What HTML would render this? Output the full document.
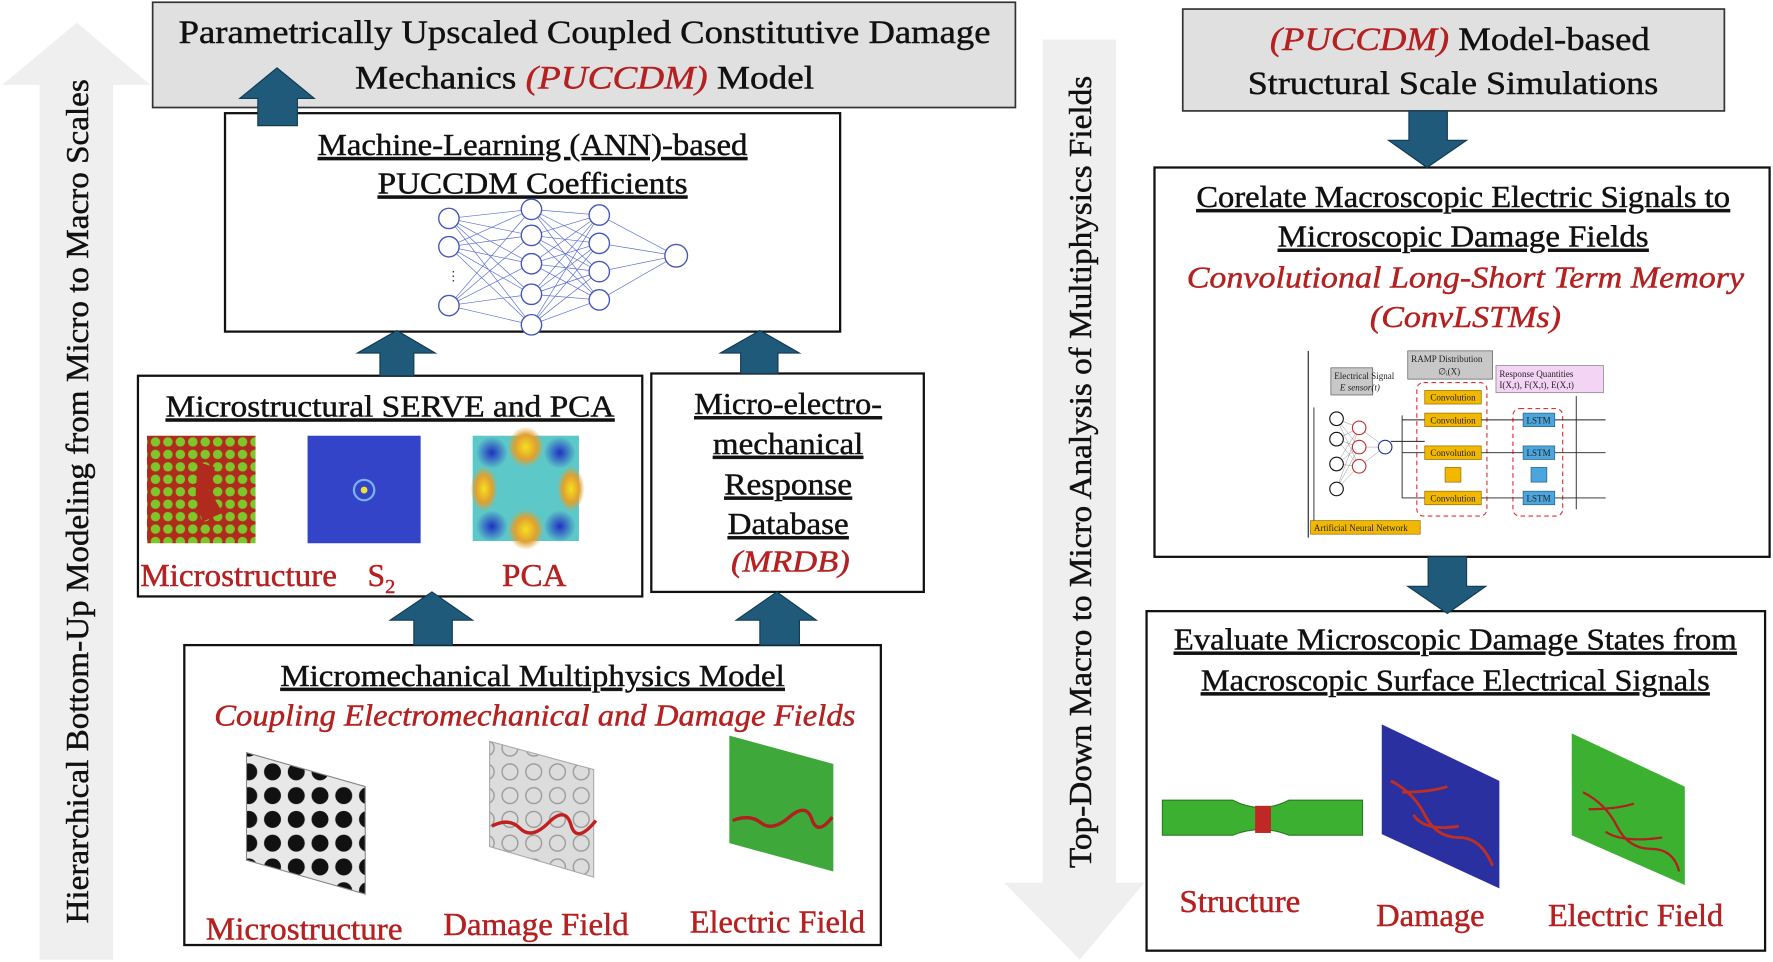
<!DOCTYPE html>
<html><head><meta charset="utf-8"><style>
html,body{margin:0;padding:0;background:#fff;overflow:hidden}
svg{display:block}
text{font-family:"Liberation Serif",serif}
.t{font-size:29px;fill:#111;stroke:#111;stroke-width:0.4}
.u{text-decoration:underline}
.r{fill:#b52020;stroke:#b52020}
.i{font-style:italic}
.s{font-size:8px;fill:#222}
</style></head><body>
<svg width="1773" height="962" viewBox="0 0 1568 850" preserveAspectRatio="none" xmlns="http://www.w3.org/2000/svg">
<defs>
<pattern id="dots" width="11" height="11" patternUnits="userSpaceOnUse"><rect width="11" height="11" fill="#b02a1e"/><circle cx="5.5" cy="5.5" r="4.2" fill="#7dc72a"/></pattern>
<pattern id="bdots" width="21" height="21" patternUnits="userSpaceOnUse"><rect width="21" height="21" fill="#e8e8e8"/><circle cx="10" cy="10" r="7.5" fill="#111"/></pattern>
<pattern id="gdots" width="21" height="21" patternUnits="userSpaceOnUse"><rect width="21" height="21" fill="#dcdcdc"/><circle cx="10" cy="10" r="7" fill="none" stroke="#999" stroke-width="1.2"/></pattern>
<radialGradient id="yb" cx="50%" cy="50%" r="50%"><stop offset="0" stop-color="#f5e020"/><stop offset="0.6" stop-color="#e0a030"/><stop offset="1" stop-color="#e0a030" stop-opacity="0"/></radialGradient>
<radialGradient id="bb" cx="50%" cy="50%" r="50%"><stop offset="0" stop-color="#2030c0"/><stop offset="1" stop-color="#2030c0" stop-opacity="0"/></radialGradient>
</defs>

<polygon points="35,848 35,75 2,75 68,20 133,75 100,75 100,848" fill="#efefef"/>
<text class="t" transform="translate(78,443) rotate(-90)" text-anchor="middle" textLength="746" lengthAdjust="spacingAndGlyphs" style="font-size:28px">Hierarchical Bottom-Up Modeling from Micro to Macro Scales</text>
<polygon points="922,35 987,35 987,780 1012,780 955,848 888,780 922,780" fill="#efefef"/>
<text class="t" transform="translate(965,417) rotate(-90)" text-anchor="middle" textLength="700" lengthAdjust="spacingAndGlyphs" style="font-size:28px">Top-Down Macro to Micro Analysis of  Multiphysics Fields</text>

<rect x="135" y="2" width="763" height="93" fill="#e0e0e0" stroke="#333" stroke-width="1.5"/>
<text class="t" x="517" y="38" text-anchor="middle" textLength="718" lengthAdjust="spacingAndGlyphs">Parametrically Upscaled Coupled Constitutive Damage</text>
<text class="t" x="517" y="78" text-anchor="middle" textLength="406" lengthAdjust="spacingAndGlyphs">Mechanics <tspan class="r i">(PUCCDM)</tspan> Model</text>

<rect x="199" y="100" width="544" height="193" fill="#fff" stroke="#111" stroke-width="2"/>
<text class="t u" x="471" y="137" text-anchor="middle" textLength="380" lengthAdjust="spacingAndGlyphs" style="font-size:27px">Machine-Learning (ANN)-based</text>
<text class="t u" x="471" y="171" text-anchor="middle" textLength="274" lengthAdjust="spacingAndGlyphs" style="font-size:27px">PUCCDM Coefficients</text>
<g stroke="#5a6fd0" stroke-width="0.6" fill="none">
<path d="M397,193L470,185M397,193L470,208M397,193L470,233M397,193L470,260M397,193L470,287M397,218L470,185M397,218L470,208M397,218L470,233M397,218L470,260M397,218L470,287M397,270L470,185M397,270L470,208M397,270L470,233M397,270L470,260M397,270L470,287"/>
<path d="M470,185L530,190M470,185L530,215M470,185L530,240M470,185L530,265M470,208L530,190M470,208L530,215M470,208L530,240M470,208L530,265M470,233L530,190M470,233L530,215M470,233L530,240M470,233L530,265M470,260L530,190M470,260L530,215M470,260L530,240M470,260L530,265M470,287L530,190M470,287L530,215M470,287L530,240M470,287L530,265"/>
<path d="M530,190L598,226M530,215L598,226M530,240L598,226M530,265L598,226"/>
</g>
<g fill="#fff" stroke="#4455bb" stroke-width="1.2">
<circle cx="397" cy="193" r="9"/><circle cx="397" cy="218" r="9"/><circle cx="397" cy="270" r="9"/>
<circle cx="470" cy="185" r="9"/><circle cx="470" cy="208" r="9"/><circle cx="470" cy="233" r="9"/><circle cx="470" cy="260" r="9"/><circle cx="470" cy="287" r="9"/>
<circle cx="530" cy="190" r="9"/><circle cx="530" cy="215" r="9"/><circle cx="530" cy="240" r="9"/><circle cx="530" cy="265" r="9"/>
<circle cx="598" cy="226" r="10"/>
</g>
<text x="395" y="248" font-size="12" fill="#333">⋮</text>

<rect x="122" y="332" width="446" height="195" fill="#fff" stroke="#111" stroke-width="2"/>
<text class="t u" x="345" y="368" text-anchor="middle" textLength="397" lengthAdjust="spacingAndGlyphs" style="font-size:27px">Microstructural SERVE and PCA</text>
<rect x="130" y="385" width="96" height="95" fill="url(#dots)"/>
<path d="M175,408 l15,5 l-5,20 l12,20 l-18,8 l-6,-25z" fill="#b02a1e"/>
<rect x="272" y="385" width="100" height="95" fill="#3444c8"/>
<circle cx="322" cy="433" r="9" fill="none" stroke="#7ab0f0" stroke-width="2"/>
<circle cx="322" cy="433" r="3" fill="#f0e030"/>
<rect x="418" y="385" width="94" height="93" fill="#5cc8c8"/>
<ellipse cx="465" cy="395" rx="16" ry="18" fill="url(#yb)"/>
<ellipse cx="465" cy="468" rx="16" ry="18" fill="url(#yb)"/>
<ellipse cx="428" cy="432" rx="12" ry="20" fill="url(#yb)"/>
<ellipse cx="505" cy="432" rx="12" ry="20" fill="url(#yb)"/>
<ellipse cx="435" cy="400" rx="14" ry="14" fill="url(#bb)"/>
<ellipse cx="495" cy="400" rx="14" ry="14" fill="url(#bb)"/>
<ellipse cx="435" cy="465" rx="14" ry="14" fill="url(#bb)"/>
<ellipse cx="495" cy="465" rx="14" ry="14" fill="url(#bb)"/>
<text class="t r" x="124" y="518" textLength="174" lengthAdjust="spacingAndGlyphs" style="font-size:28px">Microstructure</text>
<text class="t r" x="325" y="518" style="font-size:28px">S<tspan font-size="18" dy="6">2</tspan></text>
<text class="t r" x="444" y="518" textLength="57" lengthAdjust="spacingAndGlyphs" style="font-size:28px">PCA</text>

<rect x="576" y="330" width="241" height="193" fill="#fff" stroke="#111" stroke-width="2"/>
<g style="font-size:27px">
<text class="t u" x="697" y="366" text-anchor="middle" textLength="166" lengthAdjust="spacingAndGlyphs" style="font-size:27px">Micro-electro-</text>
<text class="t u" x="697" y="401" text-anchor="middle" textLength="133" lengthAdjust="spacingAndGlyphs" style="font-size:27px">mechanical</text>
<text class="t u" x="697" y="437" text-anchor="middle" textLength="113" lengthAdjust="spacingAndGlyphs" style="font-size:27px">Response</text>
<text class="t u" x="697" y="472" text-anchor="middle" textLength="107" lengthAdjust="spacingAndGlyphs" style="font-size:27px">Database</text>
<text class="t r i" x="699" y="505" text-anchor="middle" textLength="105" lengthAdjust="spacingAndGlyphs" style="font-size:27px">(MRDB)</text>
</g>

<rect x="163" y="570" width="616" height="265" fill="#fff" stroke="#111" stroke-width="2"/>
<text class="t u" x="471" y="606" text-anchor="middle" textLength="446" lengthAdjust="spacingAndGlyphs" style="font-size:27px">Micromechanical Multiphysics Model</text>
<text class="t r i" x="473" y="641" text-anchor="middle" textLength="567" lengthAdjust="spacingAndGlyphs" style="font-size:27px">Coupling Electromechanical and Damage Fields</text>
<polygon points="218,665 323,695 323,790 218,760" fill="url(#bdots)" stroke="#888"/>
<polygon points="433,655 525,680 525,775 433,748" fill="url(#gdots)" stroke="#aaa"/>
<path d="M435,730 q15,-8 25,2 t25,-5 t20,2 t22,-4" stroke="#c02020" stroke-width="3" fill="none"/>
<polygon points="645,650 737,675 737,770 645,745" fill="#3ea83a"/>
<path d="M648,725 q15,-6 25,2 t25,-5 t20,2 t18,-2" stroke="#b02020" stroke-width="3" fill="none"/>
<text class="t r" x="182" y="830" textLength="174" lengthAdjust="spacingAndGlyphs" style="font-size:28px">Microstructure</text>
<text class="t r" x="392" y="826" textLength="164" lengthAdjust="spacingAndGlyphs" style="font-size:28px">Damage Field</text>
<text class="t r" x="610" y="824" textLength="155" lengthAdjust="spacingAndGlyphs" style="font-size:28px">Electric Field</text>

<rect x="1046" y="8" width="479" height="90" fill="#e0e0e0" stroke="#333" stroke-width="1.5"/>
<text class="t" x="1291" y="44" text-anchor="middle" textLength="336" lengthAdjust="spacingAndGlyphs"><tspan class="r i">(PUCCDM)</tspan> Model-based</text>
<text class="t" x="1285" y="83" text-anchor="middle" textLength="363" lengthAdjust="spacingAndGlyphs">Structural Scale Simulations</text>

<rect x="1021" y="148" width="544" height="344" fill="#fff" stroke="#111" stroke-width="2"/>
<text class="t u" x="1294" y="183" text-anchor="middle" textLength="472" lengthAdjust="spacingAndGlyphs" style="font-size:27px">Corelate Macroscopic Electric Signals to</text>
<text class="t u" x="1294" y="218" text-anchor="middle" textLength="328" lengthAdjust="spacingAndGlyphs" style="font-size:27px">Microscopic Damage Fields</text>
<text class="t r i" x="1296" y="254" text-anchor="middle" textLength="493" lengthAdjust="spacingAndGlyphs" style="font-size:27px">Convolutional Long-Short Term Memory</text>
<text class="t r i" x="1296" y="289" text-anchor="middle" textLength="169" lengthAdjust="spacingAndGlyphs" style="font-size:27px">(ConvLSTMs)</text>
<g>
<line x1="1157" y1="310" x2="1157" y2="475" stroke="#222"/>
<rect x="1177" y="325" width="37" height="24" fill="#c8c8c8" stroke="#555" stroke-width="0.6"/>
<text class="s" x="1180" y="335" font-size="7">Electrical Signal</text>
<text class="s" x="1185" y="345" font-size="7" font-style="italic">E sensor(t)</text>
<rect x="1245" y="310" width="75" height="25" fill="#c8c8c8" stroke="#555" stroke-width="0.6"/>
<text class="s" x="1248" y="320">RAMP Distribution</text>
<text class="s" x="1272" y="331">∅ᵢ(X)</text>
<rect x="1323" y="323" width="95" height="24" fill="#f4d4f4" stroke="#777" stroke-width="0.6"/>
<text class="s" x="1326" y="333" font-size="7">Response Quantities</text>
<text class="s" x="1326" y="343" font-size="7">I(X,t), F(X,t), E(X,t)</text>
<rect x="1253" y="338" width="62" height="118" rx="6" fill="none" stroke="#e03030" stroke-dasharray="4,3"/>
<rect x="1338" y="361" width="44" height="95" rx="6" fill="none" stroke="#e03030" stroke-dasharray="4,3"/>
<g stroke="#222" stroke-width="0.8">
<line x1="1230" y1="390" x2="1260" y2="390"/><line x1="1240" y1="367" x2="1240" y2="440"/>
<line x1="1240" y1="371" x2="1420" y2="371"/><line x1="1240" y1="400" x2="1420" y2="400"/><line x1="1240" y1="440" x2="1420" y2="440"/>
<line x1="1394" y1="350" x2="1394" y2="450"/>
<line x1="1162" y1="360" x2="1162" y2="460"/>
</g>
<g fill="#f2b800" stroke="#8a6a00" stroke-width="0.6">
<rect x="1260" y="345" width="50" height="12"/><rect x="1260" y="365" width="50" height="12"/><rect x="1260" y="394" width="50" height="12"/><rect x="1260" y="434" width="50" height="12"/>
<rect x="1278" y="413" width="14" height="13"/><rect x="1159" y="460" width="97" height="12"/>
</g>
<g class="s" font-size="7"><text x="1265" y="354">Convolution</text><text x="1265" y="374">Convolution</text><text x="1265" y="403">Convolution</text><text x="1265" y="443">Convolution</text><text x="1162" y="469">Artificial Neural Network</text></g>
<g fill="#4aa6dc" stroke="#2a5a80" stroke-width="0.6">
<rect x="1347" y="365" width="28" height="12"/><rect x="1347" y="394" width="28" height="12"/><rect x="1354" y="413" width="14" height="13"/><rect x="1347" y="434" width="28" height="12"/>
</g>
<g class="s" font-size="7"><text x="1350" y="374">LSTM</text><text x="1350" y="403">LSTM</text><text x="1350" y="443">LSTM</text></g>
<g stroke="#888" stroke-width="0.4"><path d="M1182,370L1202,378M1182,370L1202,395M1182,370L1202,412M1182,388L1202,378M1182,388L1202,395M1182,388L1202,412M1182,410L1202,378M1182,410L1202,395M1182,410L1202,412M1182,432L1202,378M1182,432L1202,395M1182,432L1202,412M1202,378L1225,395M1202,395L1225,395M1202,412L1225,395"/></g>
<g fill="#fff" stroke-width="1"><circle cx="1182" cy="370" r="6" stroke="#111"/><circle cx="1182" cy="388" r="6" stroke="#111"/><circle cx="1182" cy="410" r="6" stroke="#111"/><circle cx="1182" cy="432" r="6" stroke="#111"/>
<circle cx="1202" cy="378" r="6" stroke="#c03030"/><circle cx="1202" cy="395" r="6" stroke="#c03030"/><circle cx="1202" cy="412" r="6" stroke="#c03030"/><circle cx="1225" cy="395" r="6" stroke="#223399"/></g>
</g>

<rect x="1014" y="540" width="547" height="300" fill="#fff" stroke="#111" stroke-width="2"/>
<text class="t u" x="1287" y="574" text-anchor="middle" textLength="498" lengthAdjust="spacingAndGlyphs" style="font-size:27px">Evaluate Microscopic Damage States from</text>
<text class="t u" x="1287" y="610" text-anchor="middle" textLength="450" lengthAdjust="spacingAndGlyphs" style="font-size:27px">Macroscopic Surface Electrical Signals</text>
<path d="M1028,707 L1090,707 Q1115,720 1140,707 L1205,707 L1205,738 L1140,738 Q1115,728 1090,738 L1028,738 Z" fill="#3cb030" stroke="#2a7a20"/>
<rect x="1110" y="712" width="14" height="24" fill="#c02828"/>
<polygon points="1222,640 1326,690 1326,785 1222,737" fill="#2b30a0"/>
<path d="M1230,690 q20,10 30,30 t30,20 t30,25 M1240,700 q25,0 40,-5 M1250,720 q10,15 40,10" stroke="#c03020" stroke-width="2.5" fill="none"/>
<polygon points="1390,648 1490,695 1490,782 1390,738" fill="#3cb030"/>
<path d="M1400,700 q20,10 30,30 t30,20 t25,20 M1405,715 q25,0 40,-5 M1420,735 q15,10 50,5" stroke="#b02020" stroke-width="2" fill="none"/>
<text class="t r" x="1043" y="806" textLength="107" lengthAdjust="spacingAndGlyphs" style="font-size:28px">Structure</text>
<text class="t r" x="1217" y="818" textLength="96" lengthAdjust="spacingAndGlyphs" style="font-size:28px">Damage</text>
<text class="t r" x="1369" y="818" textLength="155" lengthAdjust="spacingAndGlyphs" style="font-size:28px">Electric Field</text>

<g fill="#1f5a7a" stroke="#123a52" stroke-width="1">
<polygon points="228,111 228,87 212,87 245,60 278,87 263,87 263,111"/>
<polygon points="336,332 336,312 316,312 351,292 385,312 366,312 366,332"/>
<polygon points="655,330 655,312 637,312 672,292 707,312 688,312 688,330"/>
<polygon points="366,570 366,548 345,548 382,523 418,548 400,548 400,570"/>
<polygon points="672,570 672,548 651,548 687,523 722,548 707,548 707,570"/>
<polygon points="1246,98 1280,98 1280,124 1297,124 1262,148 1228,124 1246,124"/>
<polygon points="1263,492 1297,492 1297,518 1314,518 1280,542 1245,518 1263,518"/>
</g>
</svg>
</body></html>
